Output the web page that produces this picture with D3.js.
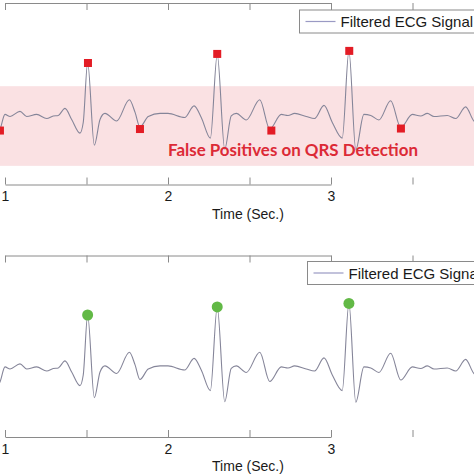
<!DOCTYPE html>
<html>
<head>
<meta charset="utf-8">
<script src="https://cdnjs.cloudflare.com/ajax/libs/d3/7.8.5/d3.min.js"></script>
<style>
  body { margin: 0; background: #fff; }
  .tick text { font-family: "Liberation Sans", Arial, sans-serif; font-size: 14px; fill: #1a1a1a; }
  .tick line, .domain { stroke: #8a8a8a; }
</style>
</head>
<body>
<script>

// Filtered ECG signal (time in sec, amplitude)
var time = [0.951, 0.969, 1.000, 1.031, 1.092, 1.133, 1.194, 1.256, 1.296, 1.327, 1.368, 1.409, 1.460, 1.480, 1.507,
            1.548, 1.583, 1.613, 1.685, 1.763, 1.798, 1.828, 1.879, 1.951, 2.000, 2.102, 2.160, 2.204, 2.260, 2.302,
            2.348, 2.388, 2.419, 2.480, 2.563, 2.624, 2.695, 2.736, 2.777, 2.848, 2.899, 2.957, 3.008, 3.069, 3.110,
            3.152, 3.202, 3.244, 3.294, 3.366, 3.428, 3.499, 3.550, 3.591, 3.632, 3.713, 3.765, 3.826, 3.877, 3.914];
var ecg = [-0.39, -0.31, -0.01, -0.05, 0.05, -0.05, -0.01, -0.09, -0.04, -0.03, 0.11, -0.11, -0.38, -0.17, 1.02,
           -0.62, -0.11, 0.01, -0.14, 0.28, 0.03, -0.26, -0.05, 0.01, 0.01, -0.07, 0.16, -0.07, -0.48, 1.18,
           -0.70, -0.04, 0.01, -0.12, 0.28, -0.30, -0.01, -0.03, 0.01, -0.05, -0.09, 0.17, -0.17, -0.48, 1.25,
           -0.71, -0.01, -0.03, -0.12, 0.26, -0.27, -0.01, -0.04, 0.01, -0.05, -0.03, -0.09, 0.14, -0.14, -0.19];

// detections, threshold method (top) - includes false positives
var fpTime = [0.969, 1.509, 1.828, 2.302, 2.634, 3.112, 3.429];
var fpValue = [-0.33, 1.01, -0.30, 1.19, -0.33, 1.25, -0.29];

// detections, correct R peaks (bottom)
var rTime = [1.507, 2.302, 3.110];
var rValue = [1.02, 1.18, 1.25];

// shaded band on the top panel
var band = [-1.03, 0.55];

var tickValues = [1, 1.5, 2, 2.5, 3, 3.5];
var tickLabels = ["1", "", "2", "", "3", ""];
var legendLabel = "Filtered ECG Signal";
var noteText = "False Positives on QRS Detection";
var xLabel = "Time (Sec.)";

var width = 474, height = 474;

var svg = d3.select("body")
            .append("svg")
            .attr("width", width)
            .attr("height", height);

var x = d3.scaleLinear()
          .domain([1, 3])
          .range([5, 331]);

var signal = time.map(function(t, i) { return {t: t, v: ecg[i]}; });

var panels = [
  {top: 3, bottom: 184.5, legendX: 299.5, legendY: 10, markers: "square", mt: fpTime, mv: fpValue, band: true},
  {top: 255.5, bottom: 437, legendX: 307.5, legendY: 261.5, markers: "circle", mt: rTime, mv: rValue, band: false}
];

panels.forEach(function(p, k) {
  var y = d3.scaleLinear()
            .domain([-1.4, 2.2])
            .range([p.bottom, p.top]);

  var g = svg.append("g").attr("class", "panel");

  g.append("clipPath")
    .attr("id", "clip" + k)
    .append("rect")
    .attr("x", -20).attr("y", p.top)
    .attr("width", width + 40).attr("height", p.bottom - p.top);

  var plot = g.append("g").attr("clip-path", "url(#clip" + k + ")");

  if (p.band) {
    plot.append("rect")
      .attr("x", 0)
      .attr("y", y(band[1]))
      .attr("width", width)
      .attr("height", y(band[0]) - y(band[1]))
      .style("fill", "#fae1e3");
  }

  var line = d3.line()
               .x(function(d) { return x(d.t); })
               .y(function(d) { return y(d.v); })
               .curve(d3.curveMonotoneX);

  plot.append("path")
    .datum(signal)
    .attr("d", line)
    .style("fill", "none")
    .style("stroke", "#858599")
    .style("stroke-width", 1.1);

  var pts = p.mt.map(function(t, i) { return {t: t, v: p.mv[i]}; });

  if (p.markers == "square") {
    plot.selectAll("rect.mk")
      .data(pts)
      .enter().append("rect")
      .attr("class", "mk")
      .attr("x", function(d) { return x(d.t) - 4; })
      .attr("y", function(d) { return y(d.v) - 4; })
      .attr("width", 8)
      .attr("height", 8)
      .style("fill", "#e31c25");
  } else {
    plot.selectAll("circle.mk")
      .data(pts)
      .enter().append("circle")
      .attr("class", "mk")
      .attr("cx", function(d) { return x(d.t); })
      .attr("cy", function(d) { return y(d.v); })
      .attr("r", 5.5)
      .style("fill", "#62b946");
  }

  if (p.band) {
    g.append("text")
      .attr("x", 168)
      .attr("y", 155.5)
      .attr("textLength", 250)
      .attr("lengthAdjust", "spacingAndGlyphs")
      .style("font-family", "Lato, 'Open Sans', sans-serif")
      .style("font-weight", "bold")
      .style("font-size", "17px")
      .style("fill", "#dc2a36")
      .text(noteText);
  }

  // top border, ticks pointing in
  g.append("g")
    .attr("transform", "translate(0," + p.top + ")")
    .call(d3.axisTop(x).tickValues(tickValues).tickSizeInner(-7).tickSizeOuter(0).tickFormat(""));

  // bottom axis, ticks pointing in
  g.append("g")
    .attr("transform", "translate(0," + p.bottom + ")")
    .call(d3.axisBottom(x).tickValues(tickValues).tickSizeInner(-7).tickSizeOuter(0).tickPadding(7)
      .tickFormat(function(d, i) { return tickLabels[i]; }));

  g.append("text")
    .attr("x", 248)
    .attr("y", p.bottom + 34)
    .attr("text-anchor", "middle")
    .style("font-family", "'Liberation Sans', Arial, sans-serif")
    .style("font-size", "14px")
    .style("fill", "#1a1a1a")
    .text(xLabel);

  // legend
  var leg = g.append("g").attr("transform", "translate(" + p.legendX + "," + p.legendY + ")");
  leg.append("rect")
    .attr("width", 220)
    .attr("height", 23)
    .style("fill", "#fff")
    .style("stroke", "#8a8a8a");
  leg.append("line")
    .attr("x1", 6).attr("x2", 36)
    .attr("y1", 11.5).attr("y2", 11.5)
    .style("stroke", "#9a9ac4")
    .style("stroke-width", 1.2);
  leg.append("text")
    .attr("x", 41)
    .attr("y", 17)
    .style("font-family", "'Liberation Sans', Arial, sans-serif")
    .style("font-size", "15px")
    .style("fill", "#1a1a1a")
    .text(legendLabel);
});

</script>
</body>
</html>
